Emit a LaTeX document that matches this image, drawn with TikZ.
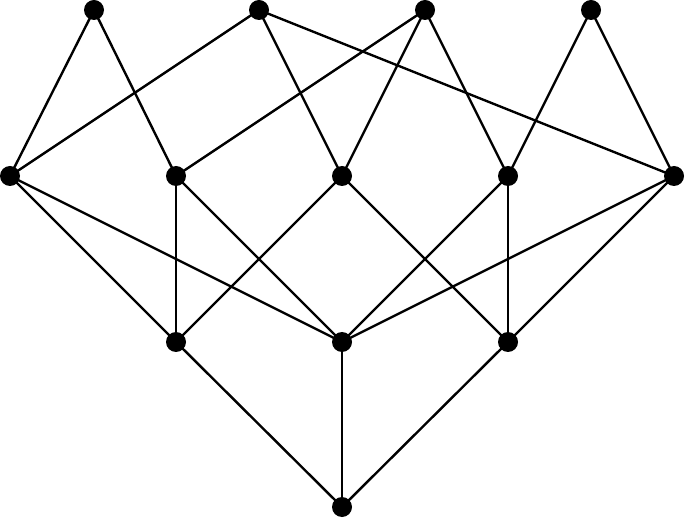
\documentclass[tikz,border=0pt]{standalone}
\begin{document}
\begin{tikzpicture}[x=1pt,y=-1pt,
  vtx/.style={circle,fill=black,inner sep=0pt,minimum size=20pt},
  edge/.style={line width=2.4pt}]
\useasboundingbox (0,0) rectangle (685,518);
\node[vtx] (t1) at (94,10) {};
\node[vtx] (t2) at (259,10) {};
\node[vtx] (t3) at (425,10) {};
\node[vtx] (t4) at (591,10) {};
\node[vtx] (m1) at (10,176) {};
\node[vtx] (m2) at (176,176) {};
\node[vtx] (m3) at (342,176) {};
\node[vtx] (m4) at (508,176) {};
\node[vtx] (m5) at (674,176) {};
\node[vtx] (l1) at (176,342) {};
\node[vtx] (l2) at (342,342) {};
\node[vtx] (l3) at (508,342) {};
\node[vtx] (b) at (342,507) {};
\begin{scope}[on background layer/.style={}]
\foreach \a/\c in {t1/m1,t1/m2,t2/m1,t2/m3,t2/m5,t3/m2,t3/m3,t3/m4,t4/m4,t4/m5,
  m1/l1,m1/l2,m2/l1,m2/l2,m3/l1,m3/l3,m4/l2,m4/l3,m5/l2,m5/l3,l1/b,l2/b,l3/b}
  \draw[edge] (\a.center) -- (\c.center);
\end{scope}
\end{tikzpicture}
\end{document}
